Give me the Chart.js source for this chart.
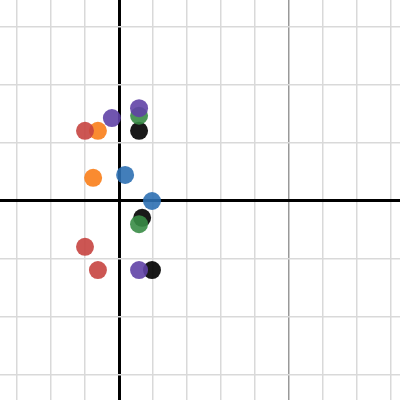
<!DOCTYPE html>
<html><head><script src="https://cdn.jsdelivr.net/npm/chart.js"></script>
<style>html,body{margin:0;padding:0;background:#fff}#w{width:400px;height:400px}</style></head>
<body><div id="w"><canvas id="c"></canvas></div>
<script>
const redPts = [{x:-1.0,y:1.21},{x:-1.0,y:-0.79},{x:-0.62,y:-1.19}];
const orangePts = [{x:-0.62,y:1.21},{x:-0.76,y:0.40}];
const purplePts = [{x:0.59,y:1.60},{x:-0.21,y:1.43},{x:0.59,y:-1.19}];
const greenPts = [{x:0.59,y:1.47},{x:0.59,y:-0.40}];
const bluePts = [{x:0.18,y:0.45},{x:0.97,y:0}];
const blackPts = [{x:0.59,y:1.21},{x:0.68,y:-0.29},{x:0.97,y:-1.19}];
const series = [
  {data:redPts,c:'rgba(199,68,64,0.9)'},
  {data:orangePts,c:'rgba(250,126,25,0.9)'},
  {data:purplePts,c:'rgba(96,66,166,0.9)'},
  {data:greenPts,c:'rgba(56,140,70,0.9)'},
  {data:bluePts,c:'rgba(45,112,179,0.9)'},
  {data:blackPts,c:'rgba(0,0,0,0.9)'}
];
function gridColor(ctx){const v=ctx.tick&&ctx.tick.value;if(v===0)return '#000';if(v===5)return '#999';return '#d9d9d9';}
function gridWidth(ctx){const v=ctx.tick&&ctx.tick.value;if(v===0)return 3;if(v===5)return 1.5;return 1.5;}
new Chart(document.getElementById('c'),{
  type:'scatter',
  data:{datasets:series.map(s=>({data:s.data,backgroundColor:s.c,borderWidth:0,pointRadius:9,pointHoverRadius:9}))},
  options:{responsive:true,maintainAspectRatio:false,animation:false,
    layout:{padding:0,autoPadding:false},
    plugins:{legend:{display:false},tooltip:{enabled:false}},
    scales:{
      x:{min:-119/34,max:281/34,border:{display:false},ticks:{display:false,stepSize:1,includeBounds:false},grid:{drawTicks:false,color:gridColor,lineWidth:gridWidth}},
      y:{min:-199/58,max:201/58,border:{display:false},ticks:{display:false,stepSize:1,includeBounds:false},grid:{drawTicks:false,color:gridColor,lineWidth:gridWidth}}
    }}
});
</script></body></html>
